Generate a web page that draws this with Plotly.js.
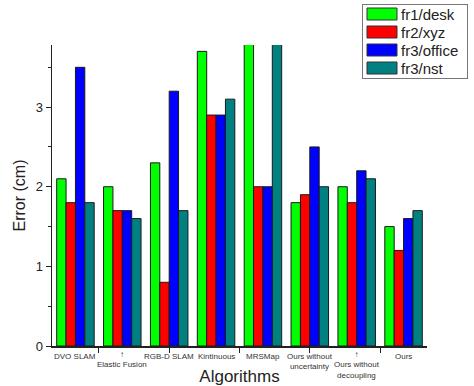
<!DOCTYPE html>
<html>
<head>
<meta charset="utf-8">
<script src="https://cdn.plot.ly/plotly-3.0.1.min.js"></script>
<style>html,body{margin:0;padding:0;background:#fff;}#chart{width:474px;height:386px;}</style>
</head>
<body>
<div id="chart"></div>
<script>
const categories = ["DVO SLAM", "Elastic Fusion", "RGB-D SLAM", "Kintinuous", "MRSMap", "Ours without<br>uncertainty", "Ours without<br>decoupling", "Ours"];
const labelLowered = [false, true, false, false, false, false, true, false];
const seriesNames = ["fr1/desk", "fr2/xyz", "fr3/office", "fr3/nst"];
const fr1_desk   = [2.1, 2.0, 2.3, 3.7, 4.5, 1.8, 2.0, 1.5];
const fr2_xyz    = [1.8, 1.7, 0.8, 2.9, 2.0, 1.9, 1.8, 1.2];
const fr3_office = [3.5, 1.7, 3.2, 2.9, 2.0, 2.5, 2.2, 1.6];
const fr3_nst    = [1.8, 1.6, 1.7, 3.1, 4.5, 2.0, 2.1, 1.7];
const yTickVals = [0, 1, 2, 3];
const colors = ["#00FF00", "#FF0000", "#0000FF", "#008080"];

const xIdx = categories.map((_, i) => i);
const seriesValues = [fr1_desk, fr2_xyz, fr3_office, fr3_nst];
const traces = seriesValues.map((vals, k) => ({
  type: "bar",
  name: seriesNames[k],
  x: xIdx,
  y: vals,
  marker: {color: colors[k], line: {color: "#1a1a1a", width: 1}},
  hoverinfo: "none"
}));

const annotations = categories.map((c, i) => ({
  x: i, xref: "x", y: 0, yref: "paper",
  text: labelLowered[i] ? "↑<br>" + c : c,
  showarrow: false, xanchor: "center", yanchor: "top",
  yshift: labelLowered[i] ? -2 : -4,
  font: {family: "Liberation Sans, Arial", size: 8, color: "#333"}
}));

const layout = {
  width: 474, height: 386,
  margin: {l: 52, r: 41, t: 38, b: 40},
  paper_bgcolor: "#fff", plot_bgcolor: "#fff",
  barmode: "group", bargap: 0.2, bargroupgap: 0,
  font: {family: "Liberation Sans, Arial", color: "#222"},
  showlegend: true,
  legend: {
    x: 0.814, y: 1.11, xanchor: "left", yanchor: "top",
    bgcolor: "#fff", bordercolor: "#777", borderwidth: 1,
    font: {family: "Liberation Sans, Arial", size: 15, color: "#222"},
    tracegroupgap: 0, itemwidth: 30
  },
  xaxis: {
    range: [-0.5, 7.5], showgrid: false, zeroline: false,
    showline: true, linecolor: "#222", linewidth: 1.5,
    ticks: "outside", tick0: 0.5, dtick: 1.5, ticklen: 5, tickcolor: "#222",
    showticklabels: false,
    title: {text: "Algorithms", font: {size: 17, color: "#222"}, standoff: 22}
  },
  yaxis: {
    range: [0, 3.78], showgrid: false, zeroline: false,
    showline: true, linecolor: "#222", linewidth: 1.5,
    ticks: "outside", tickvals: yTickVals, ticklen: 5, tickcolor: "#222",
    tickfont: {size: 13, color: "#222"},
    minor: {dtick: 0.5, ticks: "outside", ticklen: 3, tickcolor: "#222"},
    title: {text: "Error (cm)", font: {size: 16, color: "#222"}, standoff: 6}
  },
  annotations: annotations
};

Plotly.newPlot("chart", traces, layout, {displayModeBar: false, staticPlot: true}).then(gd => {
  // Restyle legend: wide swatches, tighter rows, box placed as in the reference
  const leg = gd.querySelector(".legend");
  if (!leg) return;
  leg.setAttribute("transform", "translate(362,4)");
  const bg = leg.querySelector(".bg");
  if (bg) { bg.setAttribute("width", 105); bg.setAttribute("height", 74); bg.setAttribute("x", 0); bg.setAttribute("y", 0); }
  const sb = leg.querySelector(".scrollbox");
  if (sb) sb.setAttribute("transform", "translate(0,0)");
  leg.querySelectorAll(".traces").forEach((g, i) => {
    g.setAttribute("transform", "translate(0," + (10 + i * 18) + ")");
    g.querySelectorAll(".legendpoints path").forEach(p => {
      p.setAttribute("d", "M15,6H-15V-6H15Z");
      p.style.strokeWidth = "1px";
      p.style.stroke = "#333";
    });
    const t = g.querySelector("text.legendtext");
    if (t) t.setAttribute("x", 39);
  });
  const clip = gd.querySelector("clipPath[id^='legend'] rect");
  if (clip) { clip.setAttribute("width", 105); clip.setAttribute("height", 74); clip.setAttribute("x", 0); clip.setAttribute("y", 0); }
});
</script>
</body>
</html>
